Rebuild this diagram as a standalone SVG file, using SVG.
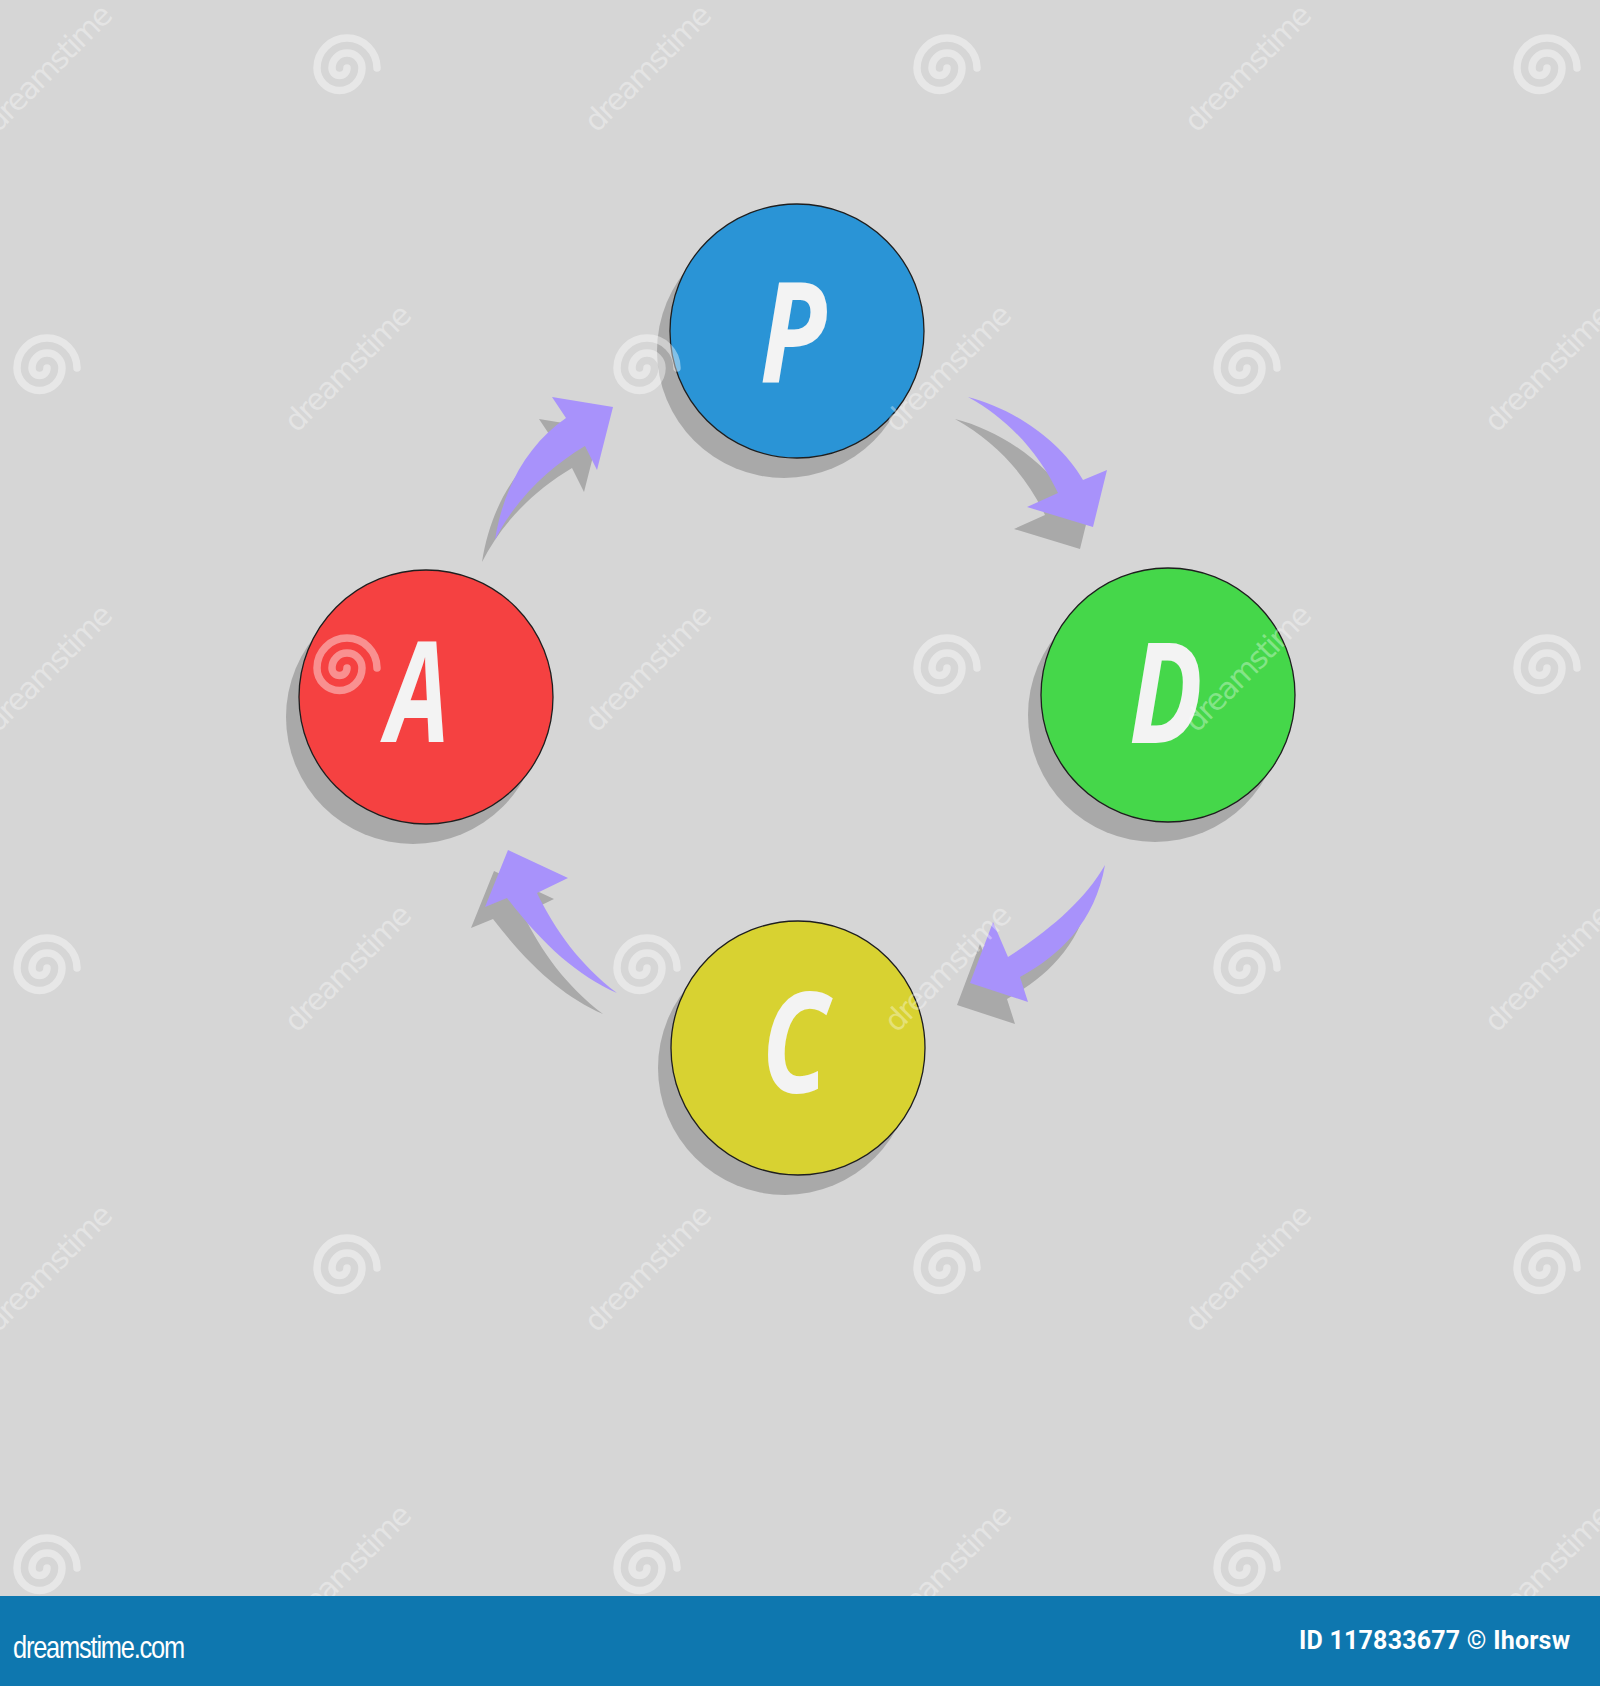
<svg xmlns="http://www.w3.org/2000/svg" xmlns:xlink="http://www.w3.org/1999/xlink" width="1600" height="1686" viewBox="0 0 1600 1686">
<style>
.sh{fill:#a9a9a9}
.circ{stroke:#1e1e1e;stroke-width:1.3}
.arrow{fill:#a892fb}
.letter{font-family:"Open Sans","DejaVu Sans",sans-serif;font-weight:700;font-style:italic;font-size:140px;fill:#f3f3f3}
.wm{font-family:"DejaVu Sans","Liberation Sans",sans-serif;font-size:30px;fill:#ffffff;fill-opacity:0.35}
.spiral{fill:none;stroke:#ffffff;stroke-opacity:0.42;stroke-width:7.5;stroke-linecap:round}
</style>
<defs>
<path id="sp" class="spiral" d="M0,0 A7.5,7.5 0 0 1 -15,0 A15,15 0 0 1 15,0 A22.5,22.5 0 0 1 -30,0 A30,30 0 0 1 30,0"/>
</defs>
<rect x="0" y="0" width="1600" height="1686" fill="#d6d6d6"/>

<g id="connectors">
  <g id="arrow-A-P">
    <path class="sh" transform="translate(-13,22)" d="M495,540 C503,488 528,444 566,418 L552,397 L613,407 L597,470 L585,446 C548,468 515,500 495,540 Z"/>
    <path class="arrow" d="M495,540 C503,488 528,444 566,418 L552,397 L613,407 L597,470 L585,446 C548,468 515,500 495,540 Z"/>
  </g>
  <g id="arrow-P-D">
    <path class="sh" transform="translate(-13,22)" d="M968,397 C1012,408 1060,440 1083,480 L1107,470 L1093,527 L1027,507 L1058,493 C1040,455 1010,420 968,397 Z"/>
    <path class="arrow" d="M968,397 C1012,408 1060,440 1083,480 L1107,470 L1093,527 L1027,507 L1058,493 C1040,455 1010,420 968,397 Z"/>
  </g>
  <g id="arrow-D-C">
    <path class="sh" transform="translate(-13,22)" d="M1105,865 C1095,922 1060,955 1020,977 L1028,1002 L970,983 L993,922 L1008,957 C1050,930 1085,900 1105,865 Z"/>
    <path class="arrow" d="M1105,865 C1095,922 1060,955 1020,977 L1028,1002 L970,983 L993,922 L1008,957 C1050,930 1085,900 1105,865 Z"/>
  </g>
  <g id="arrow-C-A">
    <path class="sh" transform="translate(-14,21)" d="M617,993 C578,976 543,945 507,898 L485,907 L508,850 L568,878 L537,893 C555,930 580,965 617,993 Z"/>
    <path class="arrow" d="M617,993 C578,976 543,945 507,898 L485,907 L508,850 L568,878 L537,893 C555,930 580,965 617,993 Z"/>
  </g>
</g>

<g id="node-P">
  <circle class="sh" cx="784" cy="351" r="127"/>
  <circle class="circ" cx="797" cy="331" r="127" fill="#2a94d6"/>
  <text class="letter" text-anchor="middle" transform="translate(793,383) scale(0.78,1)">P</text>
</g>
<g id="node-D">
  <circle class="sh" cx="1155" cy="715" r="127"/>
  <circle class="circ" cx="1168" cy="695" r="127" fill="#45d74a"/>
  <text class="letter" text-anchor="middle" transform="translate(1166,743) scale(0.78,1)">D</text>
</g>
<g id="node-C">
  <circle class="sh" cx="785" cy="1068" r="127"/>
  <circle class="circ" cx="798" cy="1048" r="127" fill="#d8d231"/>
  <text class="letter" text-anchor="middle" transform="translate(795,1093) scale(0.78,1)">C</text>
</g>
<g id="node-A">
  <circle class="sh" cx="413" cy="717" r="127"/>
  <circle class="circ" cx="426" cy="697" r="127" fill="#f54141"/>
  <text class="letter" text-anchor="middle" transform="translate(418,742) scale(0.72,1)">A</text>
</g>

<g id="watermark">
  <use xlink:href="#sp" x="347" y="68"/><use xlink:href="#sp" x="947" y="68"/><use xlink:href="#sp" x="1547" y="68"/>
  <use xlink:href="#sp" x="47" y="368"/><use xlink:href="#sp" x="647" y="368"/><use xlink:href="#sp" x="1247" y="368"/>
  <use xlink:href="#sp" x="347" y="668"/><use xlink:href="#sp" x="947" y="668"/><use xlink:href="#sp" x="1547" y="668"/>
  <use xlink:href="#sp" x="47" y="968"/><use xlink:href="#sp" x="647" y="968"/><use xlink:href="#sp" x="1247" y="968"/>
  <use xlink:href="#sp" x="347" y="1268"/><use xlink:href="#sp" x="947" y="1268"/><use xlink:href="#sp" x="1547" y="1268"/>
  <use xlink:href="#sp" x="47" y="1568"/><use xlink:href="#sp" x="647" y="1568"/><use xlink:href="#sp" x="1247" y="1568"/>
  <g>
    <text class="wm" text-anchor="middle" textLength="165" transform="translate(49,68) rotate(-45)" dy="10">dreamstime</text>
    <text class="wm" text-anchor="middle" textLength="165" transform="translate(648,68) rotate(-45)" dy="10">dreamstime</text>
    <text class="wm" text-anchor="middle" textLength="165" transform="translate(1248,68) rotate(-45)" dy="10">dreamstime</text>
    <text class="wm" text-anchor="middle" textLength="165" transform="translate(348,368) rotate(-45)" dy="10">dreamstime</text>
    <text class="wm" text-anchor="middle" textLength="165" transform="translate(948,368) rotate(-45)" dy="10">dreamstime</text>
    <text class="wm" text-anchor="middle" textLength="165" transform="translate(1548,368) rotate(-45)" dy="10">dreamstime</text>
    <text class="wm" text-anchor="middle" textLength="165" transform="translate(49,668) rotate(-45)" dy="10">dreamstime</text>
    <text class="wm" text-anchor="middle" textLength="165" transform="translate(648,668) rotate(-45)" dy="10">dreamstime</text>
    <text class="wm" text-anchor="middle" textLength="165" transform="translate(1248,668) rotate(-45)" dy="10">dreamstime</text>
    <text class="wm" text-anchor="middle" textLength="165" transform="translate(348,968) rotate(-45)" dy="10">dreamstime</text>
    <text class="wm" text-anchor="middle" textLength="165" transform="translate(948,968) rotate(-45)" dy="10">dreamstime</text>
    <text class="wm" text-anchor="middle" textLength="165" transform="translate(1548,968) rotate(-45)" dy="10">dreamstime</text>
    <text class="wm" text-anchor="middle" textLength="165" transform="translate(49,1268) rotate(-45)" dy="10">dreamstime</text>
    <text class="wm" text-anchor="middle" textLength="165" transform="translate(648,1268) rotate(-45)" dy="10">dreamstime</text>
    <text class="wm" text-anchor="middle" textLength="165" transform="translate(1248,1268) rotate(-45)" dy="10">dreamstime</text>
    <text class="wm" text-anchor="middle" textLength="165" transform="translate(348,1568) rotate(-45)" dy="10">dreamstime</text>
    <text class="wm" text-anchor="middle" textLength="165" transform="translate(948,1568) rotate(-45)" dy="10">dreamstime</text>
    <text class="wm" text-anchor="middle" textLength="165" transform="translate(1548,1568) rotate(-45)" dy="10">dreamstime</text>
  </g>
</g>

<g id="footer">
  <rect x="0" y="1596" width="1600" height="90" fill="#0e77af"/>
  <text transform="translate(13,1658) scale(0.82,1)" textLength="210" font-family="Liberation Sans, sans-serif" font-size="31" fill="#ffffff">dreamstime.com</text>
  <text x="1299" y="1649" textLength="271" font-family="Roboto, Liberation Sans, sans-serif" font-weight="700" font-size="25" fill="#ffffff">ID 117833677 © Ihorsw</text>
</g>
</svg>
